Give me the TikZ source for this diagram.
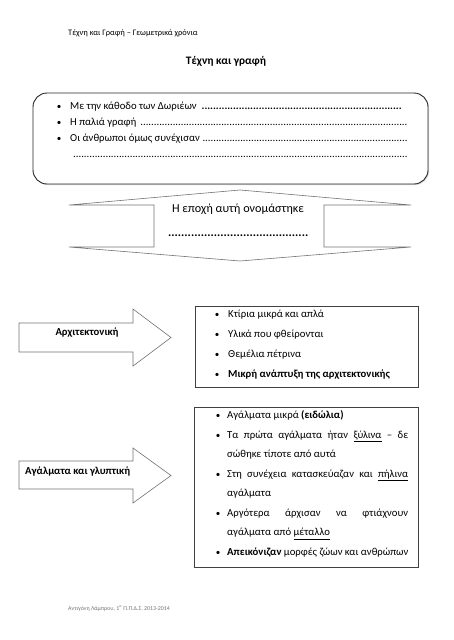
\documentclass[tikz,border=0pt]{standalone}
\usepackage{fontspec}
\setmainfont{Carlito}
\usetikzlibrary{shadows}
\newcommand\leaderdots{\leaders\hbox{.}\hfill}
\begin{document}
\begin{tikzpicture}[x=1pt,y=-1pt,
  bodyfont/.style={font=\fontsize{10.7}{12}\selectfont},
  txt/.style={inner sep=0pt, anchor=mid west, font=\fontsize{10.7}{12}\selectfont},
  bul/.style={inner sep=0pt, anchor=mid, font=\fontsize{9}{10}\selectfont},
  shapeline/.style={draw=black!55, line width=0.6pt, line join=miter},
  boxline/.style={draw=black!75, line width=0.7pt, drop shadow={opacity=0.35, shadow xshift=1pt, shadow yshift=-1pt}, fill=white}
]
\useasboundingbox (0,0) rectangle (453,640);

% header and title
\node[txt, font=\fontsize{8.4}{9}\selectfont] (head) at (68,33) {Τέχνη και Γραφή – Γεωμετρικά χρόνια};
\node[inner sep=0pt, anchor=mid, font=\fontsize{11.4}{13}\selectfont\bfseries] (title) at (226,62) {Τέχνη και γραφή};

% rounded box
\draw[draw=black!85, line width=0.9pt, rounded corners=14pt, fill=white,
  drop shadow={opacity=0.3, shadow xshift=1pt, shadow yshift=-1pt}] (33,93) rectangle (428,184);
\foreach \yy/\nm in {107/b1,123/b2,139/b3} \node[bul] (\nm) at (59,\yy) {•};
\node[txt] (t1) at (70,107) {\makebox[332pt][l]{Με την κάθοδο των Δωριέων \textbf{\leaderdots}}};
\node[txt] (t2) at (70,123) {\makebox[338pt][l]{Η παλιά γραφή \leaderdots}};
\node[txt] (t3) at (70,139) {\makebox[338pt][l]{Οι άνθρωποι όμως συνέχισαν \leaderdots}};
\node[txt] (t4) at (73,155) {\makebox[335pt][l]{\leaderdots}};

% up-down callout
\draw[shapeline, fill=white] (154,205) -- (69,205) -- (240,190) -- (411,205) -- (324,205)
  -- (324,247) -- (411,247) -- (240,261) -- (69,247) -- (154,247) -- cycle;
\node[inner sep=0pt, anchor=mid, font=\fontsize{12.2}{14}\selectfont] (era) at (238,210) {Η εποχή αυτή ονομάστηκε};
\node[txt, font=\fontsize{12.2}{14}\selectfont\bfseries] (eradots) at (168,234) {\makebox[142pt][l]{\leaderdots}};

% arrow 1
\draw[shapeline, fill=white] (19,323) -- (133,323) -- (133,309) -- (171,337.5) -- (133,366) -- (133,352) -- (19,352) -- cycle;
\node[inner sep=0pt, anchor=mid, font=\fontsize{10.7}{12}\selectfont\bfseries] (arch) at (87,333) {Αρχιτεκτονική};

% box 1
\draw[boxline] (195,306) rectangle (418,387);
\foreach \yy/\nm in {315/c1,335/c2,355/c3,375/c4} \node[bul] (\nm) at (217,\yy) {•};
\node[txt] (k1) at (228,315) {Κτίρια μικρά και απλά};
\node[txt] (k2) at (228,335) {Υλικά που φθείρονται};
\node[txt] (k3) at (228,355) {Θεμέλια πέτρινα};
\node[txt, font=\fontsize{10.7}{12}\selectfont\bfseries] (k4) at (228,375) {Μικρή ανάπτυξη της αρχιτεκτονικής};

% arrow 2
\draw[shapeline, fill=white] (19,461) -- (133,461) -- (133,448) -- (171,475.5) -- (133,503) -- (133,489) -- (19,489) -- cycle;
\node[txt, font=\fontsize{10.7}{12}\selectfont\bfseries] (sculpt) at (25,472) {Αγάλματα και γλυπτική};

% box 2
\draw[boxline] (194,407) rectangle (418,567);
\foreach \yy/\nm in {416.5/d1,436/d2,475/d3,514/d4,553/d5} \node[bul] (\nm) at (218,\yy) {•};
\node[txt] (s1) at (227,416.5) {Αγάλματα μικρά \textbf{(ειδώλια)}};
\node[txt] (s2) at (227,436) {\makebox[181pt][s]{Τα πρώτα αγάλματα ήταν \underline{ξύλινα} – δε}};
\node[txt] (s3) at (227,455.5) {σώθηκε τίποτε από αυτά};
\node[txt] (s4) at (227,475) {\makebox[181pt][s]{Στη συνέχεια κατασκεύαζαν και \underline{πήλινα}}};
\node[txt] (s5) at (227,494.5) {αγάλματα};
\node[txt] (s6) at (227,514) {\makebox[181pt][s]{Αργότερα άρχισαν να φτιάχνουν}};
\node[txt] (s7) at (227,533.5) {αγάλματα από \underline{μέταλλο}};
\node[txt] (s8) at (227,553) {\textbf{Απεικόνιζαν} μορφές ζώων και ανθρώπων};

% footer
\node[txt, font=\fontsize{5.9}{7}\selectfont, text=black!55] (foot) at (68,608) {Αντιγόνη Λάμπρου, 1\textsuperscript{ο} Π.Π.Δ.Σ. 2013-2014};
\end{tikzpicture}
\end{document}
